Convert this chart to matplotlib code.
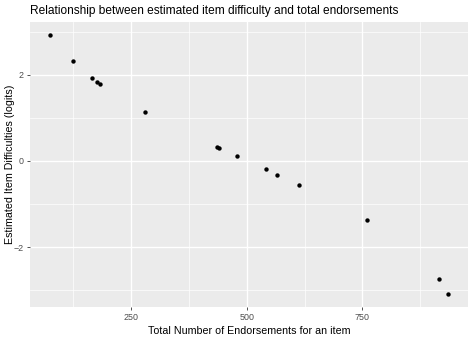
import matplotlib
matplotlib.use("Agg")
import matplotlib.pyplot as plt
from matplotlib.ticker import FixedLocator

# Item endorsement totals and estimated difficulties (logits)
endorsements = [75, 125, 165, 177, 183, 281, 435, 440, 479, 542, 566, 612, 760, 915, 935]
difficulty = [2.92, 2.31, 1.93, 1.84, 1.79, 1.14, 0.32, 0.29, 0.11, -0.20, -0.32, -0.55, -1.38, -2.75, -3.09]

x_major = [250, 500, 750]
x_minor = [125, 375, 625, 875]
y_major = [-2, 0, 2]
y_minor = [-3, -1, 1, 3]

plt.rcParams["font.family"] = ["Liberation Sans", "DejaVu Sans"]

fig = plt.figure(figsize=(4.74, 3.38), dpi=100)
ax = fig.add_axes([30 / 474, 1 - 307 / 338, (468 - 30) / 474, (307 - 22) / 338])

ax.set_facecolor("#EBEBEB")
ax.scatter(endorsements, difficulty, s=10, color="black", zorder=3, linewidths=0)

xmin, xmax = min(endorsements), max(endorsements)
ymin, ymax = min(difficulty), max(difficulty)
xpad = (xmax - xmin) * 0.05
ypad = (ymax - ymin) * 0.05
ax.set_xlim(xmin - xpad, xmax + xpad)
ax.set_ylim(ymin - ypad, ymax + ypad)

ax.xaxis.set_major_locator(FixedLocator(x_major))
ax.xaxis.set_minor_locator(FixedLocator(x_minor))
ax.yaxis.set_major_locator(FixedLocator(y_major))
ax.yaxis.set_minor_locator(FixedLocator(y_minor))

ax.grid(which="major", color="white", linewidth=1.0)
ax.grid(which="minor", color="white", linewidth=0.5)
ax.set_axisbelow(True)
for s in ax.spines.values():
    s.set_visible(False)

ax.tick_params(which="major", length=2.5, width=0.6, color="#333333",
               labelcolor="#4D4D4D", labelsize=6.4, pad=2)
ax.tick_params(which="minor", length=0)

ax.set_xlabel("Total Number of Endorsements for an item", fontsize=7.7, labelpad=3)
ax.set_ylabel("Estimated Item Difficulties (logits)", fontsize=7.7)
ax.yaxis.set_label_coords(-15 / 438, 0.5)
fig.text(30 / 474, 1 - 11 / 338, "Relationship between estimated item difficulty and total endorsements",
         fontsize=8.6, ha="left", va="center")

fig.savefig("out.png", dpi=100)
